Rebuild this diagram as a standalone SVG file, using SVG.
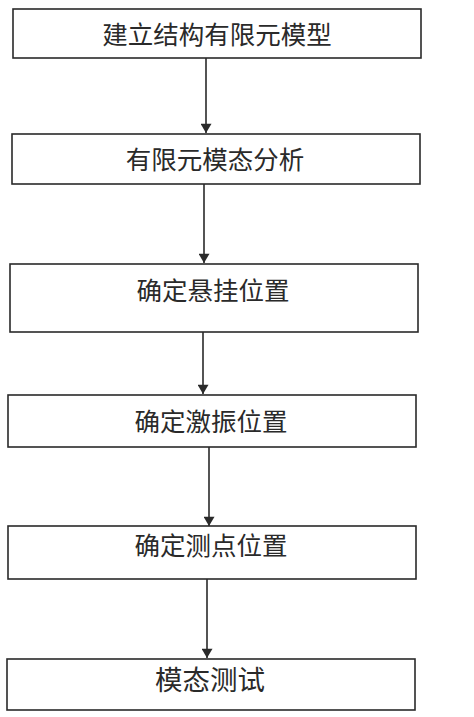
<svg xmlns="http://www.w3.org/2000/svg" width="474" height="717" viewBox="0 0 474 717">
<style>
.box{fill:#fff;stroke:#2a2a2a;stroke-width:1.6}
.lbl{font-family:"Noto Sans CJK SC","Noto Sans",sans-serif;font-size:25.5px;fill:#2a2a2a;text-anchor:middle}
.con{stroke:#2a2a2a;stroke-width:1.6;fill:none}
</style>
<defs>
<marker id="ah" markerWidth="13" markerHeight="11" refX="11" refY="6.5" orient="auto" markerUnits="userSpaceOnUse" viewBox="0 0 11 13">
<path d="M0,0 L11,6.5 L0,13 Z" fill="#2a2a2a"/>
</marker>
</defs>
<rect width="474" height="717" fill="#fff"/>
<g id="connectors">
<line class="con" x1="206" y1="58" x2="206" y2="133" marker-end="url(#ah)"/>
<line class="con" x1="204" y1="184" x2="204" y2="263" marker-end="url(#ah)"/>
<line class="con" x1="203" y1="332" x2="203" y2="394" marker-end="url(#ah)"/>
<line class="con" x1="209" y1="447" x2="209" y2="526" marker-end="url(#ah)"/>
<line class="con" x1="207" y1="579" x2="207" y2="658" marker-end="url(#ah)"/>
</g>
<g id="n1"><rect class="box" x="13" y="9" width="408" height="49"/><text class="lbl" x="217" y="44">建立结构有限元模型</text></g>
<g id="n2"><rect class="box" x="12" y="134" width="408" height="50"/><text class="lbl" x="215" y="169">有限元模态分析</text></g>
<g id="n3"><rect class="box" x="10" y="264" width="408" height="68"/><text class="lbl" x="213" y="300">确定悬挂位置</text></g>
<g id="n4"><rect class="box" x="8" y="395" width="408" height="52"/><text class="lbl" x="211" y="431">确定激振位置</text></g>
<g id="n5"><rect class="box" x="8" y="526" width="408" height="53"/><text class="lbl" x="211" y="555">确定测点位置</text></g>
<g id="n6"><rect class="box" x="7" y="659" width="408" height="51"/><text class="lbl" x="210" y="690" style="font-size:27.5px">模态测试</text></g>
</svg>
